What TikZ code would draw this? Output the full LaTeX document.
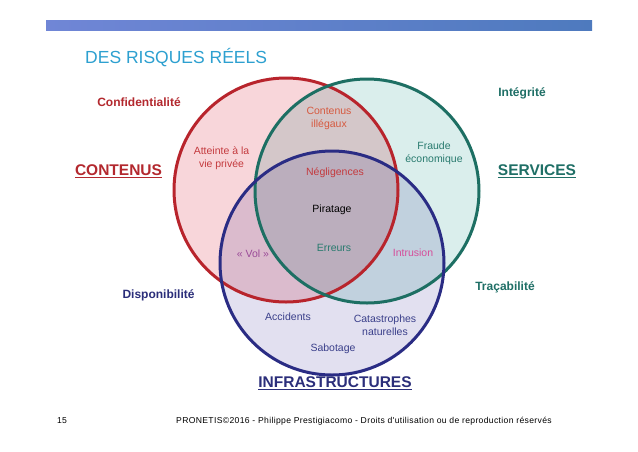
\documentclass[tikz,border=0pt]{standalone}
\usepackage{fontspec}
\setmainfont{Liberation Sans}
\newfontfamily\footfont{Liberation Sans}[LetterSpace=4]
\definecolor{barL}{RGB}{112,134,214}
\definecolor{barR}{RGB}{78,122,190}
\definecolor{titleC}{RGB}{45,160,208}
\definecolor{redS}{RGB}{184,36,44}
\definecolor{tealS}{RGB}{29,111,99}
\definecolor{blueS}{RGB}{42,44,132}
\definecolor{redF}{RGB}{248,214,218}
\definecolor{tealF}{RGB}{218,238,236}
\definecolor{blueF}{RGB}{226,224,240}
\definecolor{redT}{RGB}{179,40,46}
\definecolor{redI}{RGB}{196,58,62}
\definecolor{orangeI}{RGB}{214,90,64}
\definecolor{tealT}{RGB}{31,111,102}
\definecolor{tealI}{RGB}{40,122,110}
\definecolor{navyT}{RGB}{43,46,122}
\definecolor{navyI}{RGB}{58,63,138}
\definecolor{volC}{RGB}{154,74,152}
\definecolor{intruC}{RGB}{214,77,154}
\begin{document}
\begin{tikzpicture}[x=1pt,y=-1pt,
  inner/.style={font=\fontsize{10.5}{13}\selectfont, align=center, inner sep=0pt},
  outer/.style={font=\fontsize{12}{14}\selectfont\bfseries, inner sep=0pt},
  big/.style={font=\fontsize{15.5}{18}\selectfont\bfseries, inner sep=0pt},
  foot/.style={font=\footfont\fontsize{8.6}{10}\selectfont, inner sep=0pt},
  ring/.style={line width=3pt}]
\useasboundingbox (0,0) rectangle (638,451);
\fill[white] (0,0) rectangle (638,451);
\shade[left color=barL, right color=barR] (46,20) rectangle (592,30);
\node[anchor=west, text=titleC, font=\fontsize{17.5}{20}\selectfont, inner sep=0pt] (title) at (85,58) {DES RISQUES RÉELS};
% circles
\coordinate (cR) at (286,190);
\coordinate (cT) at (367,191);
\coordinate (cB) at (332,263);
\fill[redF, blend mode=multiply] (cR) circle[radius=112pt];
\fill[tealF, blend mode=multiply] (cT) circle[radius=112pt];
\fill[blueF, blend mode=multiply] (cB) circle[radius=112pt];
\draw[ring, redS] (cR) circle[radius=112pt];
\draw[ring, tealS] (cT) circle[radius=112pt];
\draw[ring, blueS] (cB) circle[radius=112pt];
% inner labels
\node[inner, text=orangeI] (cont) at (329,118.5) {Contenus\\illégaux};
\node[inner, text=redI] (att) at (221.5,158.5) {Atteinte à la\\vie privée};
\node[inner, text=tealI] (fraude) at (434,153.5) {Fraude\\économique};
\node[inner, text=redI] (negl) at (335,173) {Négligences};
\node[inner, text=black] (pirat) at (332,210) {Piratage};
\node[inner, text=tealI] (err) at (334,248) {Erreurs};
\node[inner, text=volC] (vol) at (253,254) {« Vol »};
\node[inner, text=intruC] (intru) at (413,253) {Intrusion};
\node[inner, text=navyI] (acc) at (288,317) {Accidents};
\node[inner, text=navyI] (cata) at (385,325) {Catastrophes\\naturelles};
\node[inner, text=navyI] (sabo) at (333,349) {Sabotage};
% outer labels
\node[outer, text=redT] (conf) at (139,102) {Confidentialité};
\node[outer, text=tealT] (integ) at (522,93) {Intégrité};
\node[outer, text=navyT] (dispo) at (158.5,295) {Disponibilité};
\node[outer, text=tealT] (traca) at (505,287) {Traçabilité};
\node[big, text=redT] (contenus) at (118.5,171) {\underline{CONTENUS}};
\node[big, text=tealT] (services) at (537,171) {\underline{SERVICES}};
\node[big, text=navyT] (infra) at (335,383) {\underline{INFRASTRUCTURES}};
% footer
\node[foot] (num) at (62,421) {15};
\node[foot] (footer) at (364,421) {PRONETIS©2016 - Philippe Prestigiacomo - Droits d'utilisation ou de reproduction réservés};
\end{tikzpicture}
\end{document}
